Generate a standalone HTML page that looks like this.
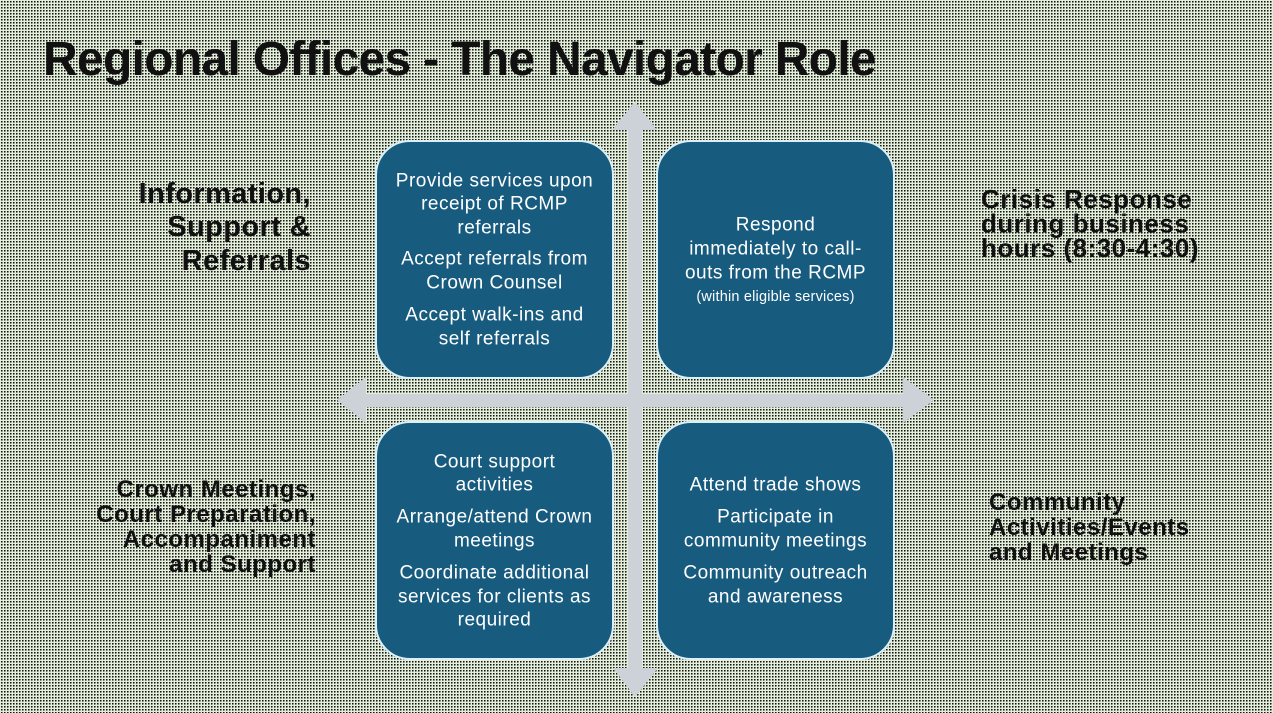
<!DOCTYPE html>
<html><head><meta charset="utf-8"><style>
html,body{margin:0;padding:0;width:1273px;height:713px;overflow:hidden;background:#c8cfbf;}
svg{display:block;}
.t{font-family:"Liberation Sans",Arial,sans-serif;}
.bx{font-family:"Liberation Sans",Arial,sans-serif;font-size:19px;fill:#ffffff;letter-spacing:0.5px;}
.lb{font-family:"Liberation Sans",Arial,sans-serif;font-weight:bold;fill:#111111;}
</style></head><body>
<svg width="1273" height="713" viewBox="0 0 1273 713" xmlns="http://www.w3.org/2000/svg">
<defs>
<pattern id="dots" width="3" height="3" patternUnits="userSpaceOnUse">
<rect width="3" height="3" fill="#e6eddb"/>
<rect x="1" y="1" width="1" height="1" fill="#101a14"/>
<rect x="2" y="1" width="1" height="1" fill="#6c7769"/>
<rect x="1" y="2" width="1" height="1" fill="#6c7769"/>
<rect x="2" y="2" width="1" height="1" fill="#a9b3a4"/>
</pattern>
</defs>
<rect width="1273" height="713" fill="url(#dots)"/>

<!-- title -->
<text class="t" x="43" y="75" font-size="48" font-weight="bold" fill="#111" style="letter-spacing:-0.7px">Regional Offices - The Navigator Role</text>

<!-- arrows -->
<g fill="#cdd1d8">
<polygon points="635,102 657,130 642,130 642,668 658,668 635,697 613,668 628,668 628,130 612,130"/>
<polygon points="337,400 366,377 366,394 903,394 903,377 934,400 903,423 903,407 366,407 366,423"/>
</g>

<!-- boxes -->
<g fill="#175b7f" stroke="#dbeff7" stroke-width="2">
<rect x="376" y="141" width="237" height="237" rx="34" ry="34"/>
<rect x="657" y="141" width="237" height="237" rx="34" ry="34"/>
<rect x="376" y="422" width="237" height="237" rx="34" ry="34"/>
<rect x="657" y="422" width="237" height="237" rx="34" ry="34"/>
</g>

<!-- box texts -->
<g class="bx" text-anchor="middle">
<text x="494.5" y="186.5">Provide services upon</text>
<text x="494.5" y="209.5">receipt of RCMP</text>
<text x="494.5" y="233.5">referrals</text>
<text x="494.5" y="264.5">Accept referrals from</text>
<text x="494.5" y="288.5">Crown Counsel</text>
<text x="494.5" y="320.5">Accept walk-ins and</text>
<text x="494.5" y="344.5">self referrals</text>

<text x="775.5" y="230.5">Respond</text>
<text x="775.5" y="254.5">immediately to call-</text>
<text x="775.5" y="278.5">outs from the RCMP</text>
<text x="775.5" y="301" style="font-size:14.5px;letter-spacing:0.2px">(within eligible services)</text>

<text x="494.5" y="467.5">Court support</text>
<text x="494.5" y="490.5">activities</text>
<text x="494.5" y="522.5">Arrange/attend Crown</text>
<text x="494.5" y="546.5">meetings</text>
<text x="494.5" y="578.5">Coordinate additional</text>
<text x="494.5" y="602.5">services for clients as</text>
<text x="494.5" y="625.5">required</text>

<text x="775.5" y="490.5">Attend trade shows</text>
<text x="775.5" y="522.5">Participate in</text>
<text x="775.5" y="546.5">community meetings</text>
<text x="775.5" y="578.5">Community outreach</text>
<text x="775.5" y="602.5">and awareness</text>
</g>

<!-- side labels -->
<g class="lb" text-anchor="end" style="font-size:29px;letter-spacing:0.4px">
<text x="311" y="203">Information,</text>
<text x="311" y="236">Support &amp;</text>
<text x="311" y="270">Referrals</text>
</g>
<g class="lb" style="font-size:26px;letter-spacing:0.5px">
<text x="981" y="208">Crisis Response</text>
<text x="981" y="232.5">during business</text>
<text x="981" y="257">hours (8:30-4:30)</text>
</g>
<g class="lb" text-anchor="end" style="font-size:24px;letter-spacing:0.5px">
<text x="316" y="497">Crown Meetings,</text>
<text x="316" y="522">Court Preparation,</text>
<text x="316" y="547">Accompaniment</text>
<text x="316" y="572">and Support</text>
</g>
<g class="lb" style="font-size:24px;letter-spacing:0.5px">
<text x="989" y="510">Community</text>
<text x="989" y="535">Activities/Events</text>
<text x="989" y="560">and Meetings</text>
</g>
</svg>
</body></html>
